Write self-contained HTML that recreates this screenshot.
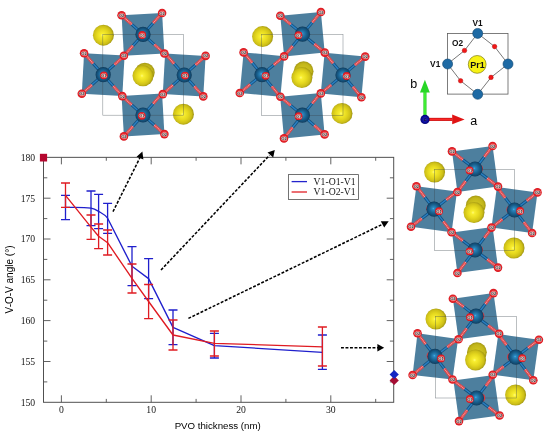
<!DOCTYPE html>
<html><head><meta charset="utf-8"><title>V-O-V angle vs PVO thickness</title>
<style>
html,body{margin:0;padding:0;background:#fff}
svg{display:block}
.tk{font-family:"Liberation Serif",serif;font-size:9.7px;fill:#151515}
.lb{font-family:"Liberation Sans",sans-serif;font-size:9.7px;fill:#000}
.sb{font-family:"Liberation Sans",sans-serif;font-size:8.3px;font-weight:bold;fill:#111}
.ab{font-family:"Liberation Sans",sans-serif;font-size:12.5px;fill:#000}
.al{font-family:"Liberation Sans",sans-serif;font-size:4.1px;font-weight:bold;fill:#2a2a2a;text-anchor:middle;stroke:#fff;stroke-width:0.6px;paint-order:stroke;stroke-opacity:0.9}
</style></head><body>
<svg width="550" height="440" viewBox="0 0 550 440">
<defs>
<radialGradient id="gy" cx="0.47" cy="0.5" r="0.55" fx="0.45" fy="0.5">
<stop offset="0" stop-color="#fffb78"/><stop offset="0.15" stop-color="#f8ee30"/><stop offset="0.5" stop-color="#e5d81e"/><stop offset="0.78" stop-color="#cdbf18"/><stop offset="0.92" stop-color="#ab9f13"/><stop offset="1" stop-color="#7d740e"/>
</radialGradient>
<radialGradient id="gyb" cx="0.5" cy="0.5" r="0.55">
<stop offset="0" stop-color="#d6cb22"/><stop offset="0.7" stop-color="#c2b61a"/><stop offset="0.92" stop-color="#a19513"/><stop offset="1" stop-color="#7a710e"/>
</radialGradient>
<radialGradient id="gv" cx="0.5" cy="0.5" r="0.52" fx="0.45" fy="0.45">
<stop offset="0" stop-color="#49b4e6"/><stop offset="0.15" stop-color="#2a86bd"/><stop offset="0.55" stop-color="#19618f"/><stop offset="0.85" stop-color="#12486e"/><stop offset="1" stop-color="#0c324e"/>
</radialGradient>
<radialGradient id="go" cx="0.5" cy="0.5" r="0.5">
<stop offset="0" stop-color="#f09a9a"/><stop offset="0.4" stop-color="#ec6a6c"/><stop offset="0.65" stop-color="#e52a2e"/><stop offset="1" stop-color="#d9141c"/>
</radialGradient>
<radialGradient id="gc" cx="0.5" cy="0.5" r="0.5">
<stop offset="0" stop-color="#2a2ab8"/><stop offset="0.7" stop-color="#0a0a9a"/><stop offset="1" stop-color="#000070"/>
</radialGradient>
<linearGradient id="gg" x1="0" x2="1" y1="0" y2="0">
<stop offset="0" stop-color="#1fc41f"/><stop offset="0.5" stop-color="#4dff3a"/><stop offset="1" stop-color="#1fc41f"/>
</linearGradient>
<linearGradient id="gr" x1="0" x2="0" y1="0" y2="1">
<stop offset="0" stop-color="#c40e0e"/><stop offset="0.5" stop-color="#ff2a2a"/><stop offset="1" stop-color="#c40e0e"/>
</linearGradient>
</defs>
<rect width="550" height="440" fill="#fff"/>
<g>
<circle cx="103.4" cy="35.2" r="10.5" fill="url(#gy)"/>
<circle cx="183.4" cy="114.2" r="10.5" fill="url(#gy)"/>
<circle cx="144.8" cy="72.6" r="9.9" fill="url(#gyb)"/>
<circle cx="143" cy="75.8" r="10.5" fill="url(#gy)"/>
<polygon points="121.6,15.3 162.1,13.0 164.4,53.5 123.9,55.8" fill="#4d7f9e"/>
<polygon points="84.1,53.3 124.6,55.6 122.3,96.1 81.8,93.8" fill="#4d7f9e"/>
<polygon points="165.1,53.6 205.6,55.9 203.3,96.4 162.8,94.1" fill="#4d7f9e"/>
<polygon points="121.6,95.9 162.1,93.6 164.4,134.1 123.9,136.4" fill="#4d7f9e"/>
<rect x="102.8" y="34.4" width="80.8" height="80.80000000000001" fill="none" stroke="#3a444c" stroke-opacity="0.62" stroke-width="0.55"/>
<line x1="143.0" y1="34.4" x2="131.7" y2="24.3" stroke="#13507f" stroke-width="3"/>
<line x1="143.0" y1="34.4" x2="131.7" y2="24.3" stroke="#2a80c2" stroke-width="1.4"/>
<line x1="131.7" y1="24.3" x2="121.6" y2="15.3" stroke="#df4448" stroke-width="3"/>
<line x1="131.7" y1="24.3" x2="121.6" y2="15.3" stroke="#f5a8a8" stroke-width="1.1" stroke-dasharray="1 0.7"/>
<line x1="143.0" y1="34.4" x2="153.1" y2="23.1" stroke="#13507f" stroke-width="3"/>
<line x1="143.0" y1="34.4" x2="153.1" y2="23.1" stroke="#2a80c2" stroke-width="1.4"/>
<line x1="153.1" y1="23.1" x2="162.1" y2="13.0" stroke="#df4448" stroke-width="3"/>
<line x1="153.1" y1="23.1" x2="162.1" y2="13.0" stroke="#f5a8a8" stroke-width="1.1" stroke-dasharray="1 0.7"/>
<line x1="143.0" y1="34.4" x2="154.3" y2="44.5" stroke="#13507f" stroke-width="3"/>
<line x1="143.0" y1="34.4" x2="154.3" y2="44.5" stroke="#2a80c2" stroke-width="1.4"/>
<line x1="154.3" y1="44.5" x2="164.4" y2="53.5" stroke="#df4448" stroke-width="3"/>
<line x1="154.3" y1="44.5" x2="164.4" y2="53.5" stroke="#f5a8a8" stroke-width="1.1" stroke-dasharray="1 0.7"/>
<line x1="143.0" y1="34.4" x2="132.9" y2="45.7" stroke="#13507f" stroke-width="3"/>
<line x1="143.0" y1="34.4" x2="132.9" y2="45.7" stroke="#2a80c2" stroke-width="1.4"/>
<line x1="132.9" y1="45.7" x2="123.9" y2="55.8" stroke="#df4448" stroke-width="3"/>
<line x1="132.9" y1="45.7" x2="123.9" y2="55.8" stroke="#f5a8a8" stroke-width="1.1" stroke-dasharray="1 0.7"/>
<line x1="103.2" y1="74.7" x2="93.1" y2="63.4" stroke="#13507f" stroke-width="3"/>
<line x1="103.2" y1="74.7" x2="93.1" y2="63.4" stroke="#2a80c2" stroke-width="1.4"/>
<line x1="93.1" y1="63.4" x2="84.1" y2="53.3" stroke="#df4448" stroke-width="3"/>
<line x1="93.1" y1="63.4" x2="84.1" y2="53.3" stroke="#f5a8a8" stroke-width="1.1" stroke-dasharray="1 0.7"/>
<line x1="103.2" y1="74.7" x2="114.5" y2="64.6" stroke="#13507f" stroke-width="3"/>
<line x1="103.2" y1="74.7" x2="114.5" y2="64.6" stroke="#2a80c2" stroke-width="1.4"/>
<line x1="114.5" y1="64.6" x2="124.6" y2="55.6" stroke="#df4448" stroke-width="3"/>
<line x1="114.5" y1="64.6" x2="124.6" y2="55.6" stroke="#f5a8a8" stroke-width="1.1" stroke-dasharray="1 0.7"/>
<line x1="103.2" y1="74.7" x2="113.3" y2="86.0" stroke="#13507f" stroke-width="3"/>
<line x1="103.2" y1="74.7" x2="113.3" y2="86.0" stroke="#2a80c2" stroke-width="1.4"/>
<line x1="113.3" y1="86.0" x2="122.3" y2="96.1" stroke="#df4448" stroke-width="3"/>
<line x1="113.3" y1="86.0" x2="122.3" y2="96.1" stroke="#f5a8a8" stroke-width="1.1" stroke-dasharray="1 0.7"/>
<line x1="103.2" y1="74.7" x2="91.9" y2="84.8" stroke="#13507f" stroke-width="3"/>
<line x1="103.2" y1="74.7" x2="91.9" y2="84.8" stroke="#2a80c2" stroke-width="1.4"/>
<line x1="91.9" y1="84.8" x2="81.8" y2="93.8" stroke="#df4448" stroke-width="3"/>
<line x1="91.9" y1="84.8" x2="81.8" y2="93.8" stroke="#f5a8a8" stroke-width="1.1" stroke-dasharray="1 0.7"/>
<line x1="184.2" y1="75.0" x2="174.1" y2="63.7" stroke="#13507f" stroke-width="3"/>
<line x1="184.2" y1="75.0" x2="174.1" y2="63.7" stroke="#2a80c2" stroke-width="1.4"/>
<line x1="174.1" y1="63.7" x2="165.1" y2="53.6" stroke="#df4448" stroke-width="3"/>
<line x1="174.1" y1="63.7" x2="165.1" y2="53.6" stroke="#f5a8a8" stroke-width="1.1" stroke-dasharray="1 0.7"/>
<line x1="184.2" y1="75.0" x2="195.5" y2="64.9" stroke="#13507f" stroke-width="3"/>
<line x1="184.2" y1="75.0" x2="195.5" y2="64.9" stroke="#2a80c2" stroke-width="1.4"/>
<line x1="195.5" y1="64.9" x2="205.6" y2="55.9" stroke="#df4448" stroke-width="3"/>
<line x1="195.5" y1="64.9" x2="205.6" y2="55.9" stroke="#f5a8a8" stroke-width="1.1" stroke-dasharray="1 0.7"/>
<line x1="184.2" y1="75.0" x2="194.3" y2="86.3" stroke="#13507f" stroke-width="3"/>
<line x1="184.2" y1="75.0" x2="194.3" y2="86.3" stroke="#2a80c2" stroke-width="1.4"/>
<line x1="194.3" y1="86.3" x2="203.3" y2="96.4" stroke="#df4448" stroke-width="3"/>
<line x1="194.3" y1="86.3" x2="203.3" y2="96.4" stroke="#f5a8a8" stroke-width="1.1" stroke-dasharray="1 0.7"/>
<line x1="184.2" y1="75.0" x2="172.9" y2="85.1" stroke="#13507f" stroke-width="3"/>
<line x1="184.2" y1="75.0" x2="172.9" y2="85.1" stroke="#2a80c2" stroke-width="1.4"/>
<line x1="172.9" y1="85.1" x2="162.8" y2="94.1" stroke="#df4448" stroke-width="3"/>
<line x1="172.9" y1="85.1" x2="162.8" y2="94.1" stroke="#f5a8a8" stroke-width="1.1" stroke-dasharray="1 0.7"/>
<line x1="143.0" y1="115.0" x2="131.7" y2="104.9" stroke="#13507f" stroke-width="3"/>
<line x1="143.0" y1="115.0" x2="131.7" y2="104.9" stroke="#2a80c2" stroke-width="1.4"/>
<line x1="131.7" y1="104.9" x2="121.6" y2="95.9" stroke="#df4448" stroke-width="3"/>
<line x1="131.7" y1="104.9" x2="121.6" y2="95.9" stroke="#f5a8a8" stroke-width="1.1" stroke-dasharray="1 0.7"/>
<line x1="143.0" y1="115.0" x2="153.1" y2="103.7" stroke="#13507f" stroke-width="3"/>
<line x1="143.0" y1="115.0" x2="153.1" y2="103.7" stroke="#2a80c2" stroke-width="1.4"/>
<line x1="153.1" y1="103.7" x2="162.1" y2="93.6" stroke="#df4448" stroke-width="3"/>
<line x1="153.1" y1="103.7" x2="162.1" y2="93.6" stroke="#f5a8a8" stroke-width="1.1" stroke-dasharray="1 0.7"/>
<line x1="143.0" y1="115.0" x2="154.3" y2="125.1" stroke="#13507f" stroke-width="3"/>
<line x1="143.0" y1="115.0" x2="154.3" y2="125.1" stroke="#2a80c2" stroke-width="1.4"/>
<line x1="154.3" y1="125.1" x2="164.4" y2="134.1" stroke="#df4448" stroke-width="3"/>
<line x1="154.3" y1="125.1" x2="164.4" y2="134.1" stroke="#f5a8a8" stroke-width="1.1" stroke-dasharray="1 0.7"/>
<line x1="143.0" y1="115.0" x2="132.9" y2="126.3" stroke="#13507f" stroke-width="3"/>
<line x1="143.0" y1="115.0" x2="132.9" y2="126.3" stroke="#2a80c2" stroke-width="1.4"/>
<line x1="132.9" y1="126.3" x2="123.9" y2="136.4" stroke="#df4448" stroke-width="3"/>
<line x1="132.9" y1="126.3" x2="123.9" y2="136.4" stroke="#f5a8a8" stroke-width="1.1" stroke-dasharray="1 0.7"/>
<circle cx="143.0" cy="34.4" r="7.6" fill="url(#gv)"/>
<circle cx="142.2" cy="35.0" r="3.9" fill="url(#go)"/>
<text x="142.2" y="36.5" class="al">O1</text>
<circle cx="103.2" cy="74.7" r="7.6" fill="url(#gv)"/>
<circle cx="103.8" cy="75.3" r="3.9" fill="url(#go)"/>
<text x="103.8" y="76.8" class="al">O1</text>
<circle cx="184.2" cy="75.0" r="7.6" fill="url(#gv)"/>
<circle cx="185.0" cy="75.6" r="3.9" fill="url(#go)"/>
<text x="185.0" y="77.1" class="al">O1</text>
<circle cx="143.0" cy="115.0" r="7.6" fill="url(#gv)"/>
<circle cx="141.8" cy="115.8" r="3.9" fill="url(#go)"/>
<text x="141.8" y="117.3" class="al">O1</text>
<circle cx="121.6" cy="15.3" r="4.3" fill="url(#go)"/>
<text x="121.6" y="16.8" class="al">O2</text>
<circle cx="162.1" cy="13.0" r="4.3" fill="url(#go)"/>
<text x="162.1" y="14.5" class="al">O2</text>
<circle cx="164.4" cy="53.5" r="4.3" fill="url(#go)"/>
<text x="164.4" y="55.0" class="al">O2</text>
<circle cx="123.9" cy="55.8" r="4.3" fill="url(#go)"/>
<text x="123.9" y="57.3" class="al">O2</text>
<circle cx="84.1" cy="53.3" r="4.3" fill="url(#go)"/>
<text x="84.1" y="54.8" class="al">O2</text>
<circle cx="122.3" cy="96.1" r="4.3" fill="url(#go)"/>
<text x="122.3" y="97.6" class="al">O2</text>
<circle cx="81.8" cy="93.8" r="4.3" fill="url(#go)"/>
<text x="81.8" y="95.3" class="al">O2</text>
<circle cx="205.6" cy="55.9" r="4.3" fill="url(#go)"/>
<text x="205.6" y="57.4" class="al">O2</text>
<circle cx="203.3" cy="96.4" r="4.3" fill="url(#go)"/>
<text x="203.3" y="97.9" class="al">O2</text>
<circle cx="162.8" cy="94.1" r="4.3" fill="url(#go)"/>
<text x="162.8" y="95.6" class="al">O2</text>
<circle cx="164.4" cy="134.1" r="4.3" fill="url(#go)"/>
<text x="164.4" y="135.6" class="al">O2</text>
<circle cx="123.9" cy="136.4" r="4.3" fill="url(#go)"/>
<text x="123.9" y="137.9" class="al">O2</text>
</g>
<g>
<circle cx="262.6" cy="36.6" r="10.5" fill="url(#gy)"/>
<circle cx="342" cy="113.4" r="10.5" fill="url(#gy)"/>
<circle cx="303.6" cy="71.2" r="9.9" fill="url(#gyb)"/>
<circle cx="301.9" cy="77.6" r="10.5" fill="url(#gy)"/>
<polygon points="280.3,15.8 320.9,12.0 324.7,52.6 284.1,56.4" fill="#4d7f9e"/>
<polygon points="243.6,52.4 284.2,56.2 280.4,96.8 239.8,93.0" fill="#4d7f9e"/>
<polygon points="324.6,52.8 365.2,56.6 361.4,97.2 320.8,93.4" fill="#4d7f9e"/>
<polygon points="280.2,96.8 320.8,93.0 324.6,134.4 284.0,138.4" fill="#4d7f9e"/>
<rect x="261.6" y="34.4" width="81.39999999999998" height="81.19999999999999" fill="none" stroke="#3a444c" stroke-opacity="0.62" stroke-width="0.55"/>
<line x1="302.5" y1="34.2" x2="290.7" y2="24.4" stroke="#13507f" stroke-width="3"/>
<line x1="302.5" y1="34.2" x2="290.7" y2="24.4" stroke="#2a80c2" stroke-width="1.4"/>
<line x1="290.7" y1="24.4" x2="280.3" y2="15.8" stroke="#df4448" stroke-width="3"/>
<line x1="290.7" y1="24.4" x2="280.3" y2="15.8" stroke="#f5a8a8" stroke-width="1.1" stroke-dasharray="1 0.7"/>
<line x1="302.5" y1="34.2" x2="312.3" y2="22.4" stroke="#13507f" stroke-width="3"/>
<line x1="302.5" y1="34.2" x2="312.3" y2="22.4" stroke="#2a80c2" stroke-width="1.4"/>
<line x1="312.3" y1="22.4" x2="320.9" y2="12.0" stroke="#df4448" stroke-width="3"/>
<line x1="312.3" y1="22.4" x2="320.9" y2="12.0" stroke="#f5a8a8" stroke-width="1.1" stroke-dasharray="1 0.7"/>
<line x1="302.5" y1="34.2" x2="314.3" y2="44.0" stroke="#13507f" stroke-width="3"/>
<line x1="302.5" y1="34.2" x2="314.3" y2="44.0" stroke="#2a80c2" stroke-width="1.4"/>
<line x1="314.3" y1="44.0" x2="324.7" y2="52.6" stroke="#df4448" stroke-width="3"/>
<line x1="314.3" y1="44.0" x2="324.7" y2="52.6" stroke="#f5a8a8" stroke-width="1.1" stroke-dasharray="1 0.7"/>
<line x1="302.5" y1="34.2" x2="292.7" y2="46.0" stroke="#13507f" stroke-width="3"/>
<line x1="302.5" y1="34.2" x2="292.7" y2="46.0" stroke="#2a80c2" stroke-width="1.4"/>
<line x1="292.7" y1="46.0" x2="284.1" y2="56.4" stroke="#df4448" stroke-width="3"/>
<line x1="292.7" y1="46.0" x2="284.1" y2="56.4" stroke="#f5a8a8" stroke-width="1.1" stroke-dasharray="1 0.7"/>
<line x1="262.0" y1="74.6" x2="252.2" y2="62.8" stroke="#13507f" stroke-width="3"/>
<line x1="262.0" y1="74.6" x2="252.2" y2="62.8" stroke="#2a80c2" stroke-width="1.4"/>
<line x1="252.2" y1="62.8" x2="243.6" y2="52.4" stroke="#df4448" stroke-width="3"/>
<line x1="252.2" y1="62.8" x2="243.6" y2="52.4" stroke="#f5a8a8" stroke-width="1.1" stroke-dasharray="1 0.7"/>
<line x1="262.0" y1="74.6" x2="273.8" y2="64.8" stroke="#13507f" stroke-width="3"/>
<line x1="262.0" y1="74.6" x2="273.8" y2="64.8" stroke="#2a80c2" stroke-width="1.4"/>
<line x1="273.8" y1="64.8" x2="284.2" y2="56.2" stroke="#df4448" stroke-width="3"/>
<line x1="273.8" y1="64.8" x2="284.2" y2="56.2" stroke="#f5a8a8" stroke-width="1.1" stroke-dasharray="1 0.7"/>
<line x1="262.0" y1="74.6" x2="271.8" y2="86.4" stroke="#13507f" stroke-width="3"/>
<line x1="262.0" y1="74.6" x2="271.8" y2="86.4" stroke="#2a80c2" stroke-width="1.4"/>
<line x1="271.8" y1="86.4" x2="280.4" y2="96.8" stroke="#df4448" stroke-width="3"/>
<line x1="271.8" y1="86.4" x2="280.4" y2="96.8" stroke="#f5a8a8" stroke-width="1.1" stroke-dasharray="1 0.7"/>
<line x1="262.0" y1="74.6" x2="250.2" y2="84.4" stroke="#13507f" stroke-width="3"/>
<line x1="262.0" y1="74.6" x2="250.2" y2="84.4" stroke="#2a80c2" stroke-width="1.4"/>
<line x1="250.2" y1="84.4" x2="239.8" y2="93.0" stroke="#df4448" stroke-width="3"/>
<line x1="250.2" y1="84.4" x2="239.8" y2="93.0" stroke="#f5a8a8" stroke-width="1.1" stroke-dasharray="1 0.7"/>
<line x1="343.0" y1="75.0" x2="333.2" y2="63.2" stroke="#13507f" stroke-width="3"/>
<line x1="343.0" y1="75.0" x2="333.2" y2="63.2" stroke="#2a80c2" stroke-width="1.4"/>
<line x1="333.2" y1="63.2" x2="324.6" y2="52.8" stroke="#df4448" stroke-width="3"/>
<line x1="333.2" y1="63.2" x2="324.6" y2="52.8" stroke="#f5a8a8" stroke-width="1.1" stroke-dasharray="1 0.7"/>
<line x1="343.0" y1="75.0" x2="354.8" y2="65.2" stroke="#13507f" stroke-width="3"/>
<line x1="343.0" y1="75.0" x2="354.8" y2="65.2" stroke="#2a80c2" stroke-width="1.4"/>
<line x1="354.8" y1="65.2" x2="365.2" y2="56.6" stroke="#df4448" stroke-width="3"/>
<line x1="354.8" y1="65.2" x2="365.2" y2="56.6" stroke="#f5a8a8" stroke-width="1.1" stroke-dasharray="1 0.7"/>
<line x1="343.0" y1="75.0" x2="352.8" y2="86.8" stroke="#13507f" stroke-width="3"/>
<line x1="343.0" y1="75.0" x2="352.8" y2="86.8" stroke="#2a80c2" stroke-width="1.4"/>
<line x1="352.8" y1="86.8" x2="361.4" y2="97.2" stroke="#df4448" stroke-width="3"/>
<line x1="352.8" y1="86.8" x2="361.4" y2="97.2" stroke="#f5a8a8" stroke-width="1.1" stroke-dasharray="1 0.7"/>
<line x1="343.0" y1="75.0" x2="331.2" y2="84.8" stroke="#13507f" stroke-width="3"/>
<line x1="343.0" y1="75.0" x2="331.2" y2="84.8" stroke="#2a80c2" stroke-width="1.4"/>
<line x1="331.2" y1="84.8" x2="320.8" y2="93.4" stroke="#df4448" stroke-width="3"/>
<line x1="331.2" y1="84.8" x2="320.8" y2="93.4" stroke="#f5a8a8" stroke-width="1.1" stroke-dasharray="1 0.7"/>
<line x1="302.4" y1="115.2" x2="290.6" y2="105.4" stroke="#13507f" stroke-width="3"/>
<line x1="302.4" y1="115.2" x2="290.6" y2="105.4" stroke="#2a80c2" stroke-width="1.4"/>
<line x1="290.6" y1="105.4" x2="280.2" y2="96.8" stroke="#df4448" stroke-width="3"/>
<line x1="290.6" y1="105.4" x2="280.2" y2="96.8" stroke="#f5a8a8" stroke-width="1.1" stroke-dasharray="1 0.7"/>
<line x1="302.4" y1="115.2" x2="312.2" y2="103.4" stroke="#13507f" stroke-width="3"/>
<line x1="302.4" y1="115.2" x2="312.2" y2="103.4" stroke="#2a80c2" stroke-width="1.4"/>
<line x1="312.2" y1="103.4" x2="320.8" y2="93.0" stroke="#df4448" stroke-width="3"/>
<line x1="312.2" y1="103.4" x2="320.8" y2="93.0" stroke="#f5a8a8" stroke-width="1.1" stroke-dasharray="1 0.7"/>
<line x1="302.4" y1="115.2" x2="314.2" y2="125.4" stroke="#13507f" stroke-width="3"/>
<line x1="302.4" y1="115.2" x2="314.2" y2="125.4" stroke="#2a80c2" stroke-width="1.4"/>
<line x1="314.2" y1="125.4" x2="324.6" y2="134.4" stroke="#df4448" stroke-width="3"/>
<line x1="314.2" y1="125.4" x2="324.6" y2="134.4" stroke="#f5a8a8" stroke-width="1.1" stroke-dasharray="1 0.7"/>
<line x1="302.4" y1="115.2" x2="292.6" y2="127.5" stroke="#13507f" stroke-width="3"/>
<line x1="302.4" y1="115.2" x2="292.6" y2="127.5" stroke="#2a80c2" stroke-width="1.4"/>
<line x1="292.6" y1="127.5" x2="284.0" y2="138.4" stroke="#df4448" stroke-width="3"/>
<line x1="292.6" y1="127.5" x2="284.0" y2="138.4" stroke="#f5a8a8" stroke-width="1.1" stroke-dasharray="1 0.7"/>
<circle cx="305.5" cy="33.9" r="3.9" fill="#d83a40"/>
<circle cx="302.5" cy="34.2" r="7.6" fill="url(#gv)"/>
<circle cx="298.5" cy="35.2" r="3.9" fill="url(#go)"/>
<text x="298.5" y="36.7" class="al">O1</text>
<circle cx="259.3" cy="74.2" r="3.9" fill="#d83a40"/>
<circle cx="262.0" cy="74.6" r="7.6" fill="url(#gv)"/>
<circle cx="265.6" cy="75.8" r="3.9" fill="url(#go)"/>
<text x="265.6" y="77.3" class="al">O1</text>
<circle cx="340.3" cy="74.7" r="3.9" fill="#d83a40"/>
<circle cx="343.0" cy="75.0" r="7.6" fill="url(#gv)"/>
<circle cx="346.6" cy="76.0" r="3.9" fill="url(#go)"/>
<text x="346.6" y="77.5" class="al">O1</text>
<circle cx="305.2" cy="114.9" r="3.9" fill="#d83a40"/>
<circle cx="302.4" cy="115.2" r="7.6" fill="url(#gv)"/>
<circle cx="298.6" cy="116.2" r="3.9" fill="url(#go)"/>
<text x="298.6" y="117.7" class="al">O1</text>
<circle cx="280.3" cy="15.8" r="4.3" fill="url(#go)"/>
<text x="280.3" y="17.3" class="al">O2</text>
<circle cx="320.9" cy="12.0" r="4.3" fill="url(#go)"/>
<text x="320.9" y="13.5" class="al">O2</text>
<circle cx="324.7" cy="52.6" r="4.3" fill="url(#go)"/>
<text x="324.7" y="54.1" class="al">O2</text>
<circle cx="284.1" cy="56.4" r="4.3" fill="url(#go)"/>
<text x="284.1" y="57.9" class="al">O2</text>
<circle cx="243.6" cy="52.4" r="4.3" fill="url(#go)"/>
<text x="243.6" y="53.9" class="al">O2</text>
<circle cx="280.4" cy="96.8" r="4.3" fill="url(#go)"/>
<text x="280.4" y="98.3" class="al">O2</text>
<circle cx="239.8" cy="93.0" r="4.3" fill="url(#go)"/>
<text x="239.8" y="94.5" class="al">O2</text>
<circle cx="365.2" cy="56.6" r="4.3" fill="url(#go)"/>
<text x="365.2" y="58.1" class="al">O2</text>
<circle cx="361.4" cy="97.2" r="4.3" fill="url(#go)"/>
<text x="361.4" y="98.7" class="al">O2</text>
<circle cx="320.8" cy="93.4" r="4.3" fill="url(#go)"/>
<text x="320.8" y="94.9" class="al">O2</text>
<circle cx="324.6" cy="134.4" r="4.3" fill="url(#go)"/>
<text x="324.6" y="135.9" class="al">O2</text>
<circle cx="284.0" cy="138.4" r="4.3" fill="url(#go)"/>
<text x="284.0" y="139.9" class="al">O2</text>
</g>
<g>
<circle cx="434.6" cy="172" r="10.5" fill="url(#gy)"/>
<circle cx="514" cy="248" r="10.5" fill="url(#gy)"/>
<circle cx="475.8" cy="205.4" r="9.9" fill="url(#gyb)"/>
<circle cx="474" cy="212.6" r="10.5" fill="url(#gy)"/>
<polygon points="452.0,151.4 492.6,146.0 498.0,186.6 457.4,192.0" fill="#4d7f9e"/>
<polygon points="416.4,186.2 457.0,191.6 451.6,232.2 411.0,226.8" fill="#4d7f9e"/>
<polygon points="496.9,187.0 537.5,192.4 532.1,233.0 491.5,227.6" fill="#4d7f9e"/>
<polygon points="452.0,232.4 492.6,227.0 498.0,267.6 457.4,273.0" fill="#4d7f9e"/>
<rect x="434.4" y="169.4" width="80.20000000000005" height="81.0" fill="none" stroke="#3a444c" stroke-opacity="0.62" stroke-width="0.55"/>
<line x1="475.0" y1="169.0" x2="462.8" y2="159.7" stroke="#13507f" stroke-width="3"/>
<line x1="475.0" y1="169.0" x2="462.8" y2="159.7" stroke="#2a80c2" stroke-width="1.4"/>
<line x1="462.8" y1="159.7" x2="452.0" y2="151.4" stroke="#df4448" stroke-width="3"/>
<line x1="462.8" y1="159.7" x2="452.0" y2="151.4" stroke="#f5a8a8" stroke-width="1.1" stroke-dasharray="1 0.7"/>
<line x1="475.0" y1="169.0" x2="484.3" y2="156.8" stroke="#13507f" stroke-width="3"/>
<line x1="475.0" y1="169.0" x2="484.3" y2="156.8" stroke="#2a80c2" stroke-width="1.4"/>
<line x1="484.3" y1="156.8" x2="492.6" y2="146.0" stroke="#df4448" stroke-width="3"/>
<line x1="484.3" y1="156.8" x2="492.6" y2="146.0" stroke="#f5a8a8" stroke-width="1.1" stroke-dasharray="1 0.7"/>
<line x1="475.0" y1="169.0" x2="487.2" y2="178.3" stroke="#13507f" stroke-width="3"/>
<line x1="475.0" y1="169.0" x2="487.2" y2="178.3" stroke="#2a80c2" stroke-width="1.4"/>
<line x1="487.2" y1="178.3" x2="498.0" y2="186.6" stroke="#df4448" stroke-width="3"/>
<line x1="487.2" y1="178.3" x2="498.0" y2="186.6" stroke="#f5a8a8" stroke-width="1.1" stroke-dasharray="1 0.7"/>
<line x1="475.0" y1="169.0" x2="465.7" y2="181.2" stroke="#13507f" stroke-width="3"/>
<line x1="475.0" y1="169.0" x2="465.7" y2="181.2" stroke="#2a80c2" stroke-width="1.4"/>
<line x1="465.7" y1="181.2" x2="457.4" y2="192.0" stroke="#df4448" stroke-width="3"/>
<line x1="465.7" y1="181.2" x2="457.4" y2="192.0" stroke="#f5a8a8" stroke-width="1.1" stroke-dasharray="1 0.7"/>
<line x1="434.0" y1="209.2" x2="424.7" y2="197.0" stroke="#13507f" stroke-width="3"/>
<line x1="434.0" y1="209.2" x2="424.7" y2="197.0" stroke="#2a80c2" stroke-width="1.4"/>
<line x1="424.7" y1="197.0" x2="416.4" y2="186.2" stroke="#df4448" stroke-width="3"/>
<line x1="424.7" y1="197.0" x2="416.4" y2="186.2" stroke="#f5a8a8" stroke-width="1.1" stroke-dasharray="1 0.7"/>
<line x1="434.0" y1="209.2" x2="446.2" y2="199.9" stroke="#13507f" stroke-width="3"/>
<line x1="434.0" y1="209.2" x2="446.2" y2="199.9" stroke="#2a80c2" stroke-width="1.4"/>
<line x1="446.2" y1="199.9" x2="457.0" y2="191.6" stroke="#df4448" stroke-width="3"/>
<line x1="446.2" y1="199.9" x2="457.0" y2="191.6" stroke="#f5a8a8" stroke-width="1.1" stroke-dasharray="1 0.7"/>
<line x1="434.0" y1="209.2" x2="443.3" y2="221.4" stroke="#13507f" stroke-width="3"/>
<line x1="434.0" y1="209.2" x2="443.3" y2="221.4" stroke="#2a80c2" stroke-width="1.4"/>
<line x1="443.3" y1="221.4" x2="451.6" y2="232.2" stroke="#df4448" stroke-width="3"/>
<line x1="443.3" y1="221.4" x2="451.6" y2="232.2" stroke="#f5a8a8" stroke-width="1.1" stroke-dasharray="1 0.7"/>
<line x1="434.0" y1="209.2" x2="421.8" y2="218.5" stroke="#13507f" stroke-width="3"/>
<line x1="434.0" y1="209.2" x2="421.8" y2="218.5" stroke="#2a80c2" stroke-width="1.4"/>
<line x1="421.8" y1="218.5" x2="411.0" y2="226.8" stroke="#df4448" stroke-width="3"/>
<line x1="421.8" y1="218.5" x2="411.0" y2="226.8" stroke="#f5a8a8" stroke-width="1.1" stroke-dasharray="1 0.7"/>
<line x1="514.5" y1="210.0" x2="505.2" y2="197.8" stroke="#13507f" stroke-width="3"/>
<line x1="514.5" y1="210.0" x2="505.2" y2="197.8" stroke="#2a80c2" stroke-width="1.4"/>
<line x1="505.2" y1="197.8" x2="496.9" y2="187.0" stroke="#df4448" stroke-width="3"/>
<line x1="505.2" y1="197.8" x2="496.9" y2="187.0" stroke="#f5a8a8" stroke-width="1.1" stroke-dasharray="1 0.7"/>
<line x1="514.5" y1="210.0" x2="526.7" y2="200.7" stroke="#13507f" stroke-width="3"/>
<line x1="514.5" y1="210.0" x2="526.7" y2="200.7" stroke="#2a80c2" stroke-width="1.4"/>
<line x1="526.7" y1="200.7" x2="537.5" y2="192.4" stroke="#df4448" stroke-width="3"/>
<line x1="526.7" y1="200.7" x2="537.5" y2="192.4" stroke="#f5a8a8" stroke-width="1.1" stroke-dasharray="1 0.7"/>
<line x1="514.5" y1="210.0" x2="523.8" y2="222.2" stroke="#13507f" stroke-width="3"/>
<line x1="514.5" y1="210.0" x2="523.8" y2="222.2" stroke="#2a80c2" stroke-width="1.4"/>
<line x1="523.8" y1="222.2" x2="532.1" y2="233.0" stroke="#df4448" stroke-width="3"/>
<line x1="523.8" y1="222.2" x2="532.1" y2="233.0" stroke="#f5a8a8" stroke-width="1.1" stroke-dasharray="1 0.7"/>
<line x1="514.5" y1="210.0" x2="502.3" y2="219.3" stroke="#13507f" stroke-width="3"/>
<line x1="514.5" y1="210.0" x2="502.3" y2="219.3" stroke="#2a80c2" stroke-width="1.4"/>
<line x1="502.3" y1="219.3" x2="491.5" y2="227.6" stroke="#df4448" stroke-width="3"/>
<line x1="502.3" y1="219.3" x2="491.5" y2="227.6" stroke="#f5a8a8" stroke-width="1.1" stroke-dasharray="1 0.7"/>
<line x1="475.0" y1="250.0" x2="462.8" y2="240.7" stroke="#13507f" stroke-width="3"/>
<line x1="475.0" y1="250.0" x2="462.8" y2="240.7" stroke="#2a80c2" stroke-width="1.4"/>
<line x1="462.8" y1="240.7" x2="452.0" y2="232.4" stroke="#df4448" stroke-width="3"/>
<line x1="462.8" y1="240.7" x2="452.0" y2="232.4" stroke="#f5a8a8" stroke-width="1.1" stroke-dasharray="1 0.7"/>
<line x1="475.0" y1="250.0" x2="484.3" y2="237.8" stroke="#13507f" stroke-width="3"/>
<line x1="475.0" y1="250.0" x2="484.3" y2="237.8" stroke="#2a80c2" stroke-width="1.4"/>
<line x1="484.3" y1="237.8" x2="492.6" y2="227.0" stroke="#df4448" stroke-width="3"/>
<line x1="484.3" y1="237.8" x2="492.6" y2="227.0" stroke="#f5a8a8" stroke-width="1.1" stroke-dasharray="1 0.7"/>
<line x1="475.0" y1="250.0" x2="487.2" y2="259.3" stroke="#13507f" stroke-width="3"/>
<line x1="475.0" y1="250.0" x2="487.2" y2="259.3" stroke="#2a80c2" stroke-width="1.4"/>
<line x1="487.2" y1="259.3" x2="498.0" y2="267.6" stroke="#df4448" stroke-width="3"/>
<line x1="487.2" y1="259.3" x2="498.0" y2="267.6" stroke="#f5a8a8" stroke-width="1.1" stroke-dasharray="1 0.7"/>
<line x1="475.0" y1="250.0" x2="465.7" y2="262.2" stroke="#13507f" stroke-width="3"/>
<line x1="475.0" y1="250.0" x2="465.7" y2="262.2" stroke="#2a80c2" stroke-width="1.4"/>
<line x1="465.7" y1="262.2" x2="457.4" y2="273.0" stroke="#df4448" stroke-width="3"/>
<line x1="465.7" y1="262.2" x2="457.4" y2="273.0" stroke="#f5a8a8" stroke-width="1.1" stroke-dasharray="1 0.7"/>
<circle cx="479.1" cy="168.6" r="3.9" fill="#d83a40"/>
<circle cx="475.0" cy="169.0" r="7.6" fill="url(#gv)"/>
<circle cx="469.6" cy="170.4" r="3.9" fill="url(#go)"/>
<text x="469.6" y="171.9" class="al">O1</text>
<circle cx="430.2" cy="208.6" r="3.9" fill="#d83a40"/>
<circle cx="434.0" cy="209.2" r="7.6" fill="url(#gv)"/>
<circle cx="439.0" cy="211.2" r="3.9" fill="url(#go)"/>
<text x="439.0" y="212.7" class="al">O1</text>
<circle cx="510.3" cy="209.7" r="3.9" fill="#d83a40"/>
<circle cx="514.5" cy="210.0" r="7.6" fill="url(#gv)"/>
<circle cx="520.1" cy="211.0" r="3.9" fill="url(#go)"/>
<text x="520.1" y="212.5" class="al">O1</text>
<circle cx="479.1" cy="249.6" r="3.9" fill="#d83a40"/>
<circle cx="475.0" cy="250.0" r="7.6" fill="url(#gv)"/>
<circle cx="469.6" cy="251.4" r="3.9" fill="url(#go)"/>
<text x="469.6" y="252.9" class="al">O1</text>
<circle cx="452.0" cy="151.4" r="4.3" fill="url(#go)"/>
<text x="452.0" y="152.9" class="al">O2</text>
<circle cx="492.6" cy="146.0" r="4.3" fill="url(#go)"/>
<text x="492.6" y="147.5" class="al">O2</text>
<circle cx="498.0" cy="186.6" r="4.3" fill="url(#go)"/>
<text x="498.0" y="188.1" class="al">O2</text>
<circle cx="457.4" cy="192.0" r="4.3" fill="url(#go)"/>
<text x="457.4" y="193.5" class="al">O2</text>
<circle cx="416.4" cy="186.2" r="4.3" fill="url(#go)"/>
<text x="416.4" y="187.7" class="al">O2</text>
<circle cx="451.6" cy="232.2" r="4.3" fill="url(#go)"/>
<text x="451.6" y="233.7" class="al">O2</text>
<circle cx="411.0" cy="226.8" r="4.3" fill="url(#go)"/>
<text x="411.0" y="228.3" class="al">O2</text>
<circle cx="537.5" cy="192.4" r="4.3" fill="url(#go)"/>
<text x="537.5" y="193.9" class="al">O2</text>
<circle cx="532.1" cy="233.0" r="4.3" fill="url(#go)"/>
<text x="532.1" y="234.5" class="al">O2</text>
<circle cx="491.5" cy="227.6" r="4.3" fill="url(#go)"/>
<text x="491.5" y="229.1" class="al">O2</text>
<circle cx="498.0" cy="267.6" r="4.3" fill="url(#go)"/>
<text x="498.0" y="269.1" class="al">O2</text>
<circle cx="457.4" cy="273.0" r="4.3" fill="url(#go)"/>
<text x="457.4" y="274.5" class="al">O2</text>
</g>
<g>
<circle cx="436" cy="319" r="10.5" fill="url(#gy)"/>
<circle cx="515.6" cy="395" r="10.5" fill="url(#gy)"/>
<circle cx="476.9" cy="352.2" r="9.9" fill="url(#gyb)"/>
<circle cx="475.6" cy="360" r="10.5" fill="url(#gy)"/>
<polygon points="452.9,298.7 493.5,293.1 499.1,333.7 458.5,339.3" fill="#4d7f9e"/>
<polygon points="417.5,333.3 458.1,338.9 452.5,379.5 412.6,375.0" fill="#4d7f9e"/>
<polygon points="498.3,334.1 538.9,339.7 533.3,380.3 492.7,374.7" fill="#4d7f9e"/>
<polygon points="453.4,380.5 494.0,374.9 499.6,415.5 459.0,421.1" fill="#4d7f9e"/>
<rect x="435.4" y="316.6" width="81.20000000000005" height="81.39999999999998" fill="none" stroke="#3a444c" stroke-opacity="0.62" stroke-width="0.55"/>
<line x1="476.0" y1="316.2" x2="463.8" y2="306.9" stroke="#13507f" stroke-width="3"/>
<line x1="476.0" y1="316.2" x2="463.8" y2="306.9" stroke="#2a80c2" stroke-width="1.4"/>
<line x1="463.8" y1="306.9" x2="452.9" y2="298.7" stroke="#df4448" stroke-width="3"/>
<line x1="463.8" y1="306.9" x2="452.9" y2="298.7" stroke="#f5a8a8" stroke-width="1.1" stroke-dasharray="1 0.7"/>
<line x1="476.0" y1="316.2" x2="485.3" y2="304.0" stroke="#13507f" stroke-width="3"/>
<line x1="476.0" y1="316.2" x2="485.3" y2="304.0" stroke="#2a80c2" stroke-width="1.4"/>
<line x1="485.3" y1="304.0" x2="493.5" y2="293.1" stroke="#df4448" stroke-width="3"/>
<line x1="485.3" y1="304.0" x2="493.5" y2="293.1" stroke="#f5a8a8" stroke-width="1.1" stroke-dasharray="1 0.7"/>
<line x1="476.0" y1="316.2" x2="488.2" y2="325.5" stroke="#13507f" stroke-width="3"/>
<line x1="476.0" y1="316.2" x2="488.2" y2="325.5" stroke="#2a80c2" stroke-width="1.4"/>
<line x1="488.2" y1="325.5" x2="499.1" y2="333.7" stroke="#df4448" stroke-width="3"/>
<line x1="488.2" y1="325.5" x2="499.1" y2="333.7" stroke="#f5a8a8" stroke-width="1.1" stroke-dasharray="1 0.7"/>
<line x1="476.0" y1="316.2" x2="466.7" y2="328.4" stroke="#13507f" stroke-width="3"/>
<line x1="476.0" y1="316.2" x2="466.7" y2="328.4" stroke="#2a80c2" stroke-width="1.4"/>
<line x1="466.7" y1="328.4" x2="458.5" y2="339.3" stroke="#df4448" stroke-width="3"/>
<line x1="466.7" y1="328.4" x2="458.5" y2="339.3" stroke="#f5a8a8" stroke-width="1.1" stroke-dasharray="1 0.7"/>
<line x1="435.0" y1="356.4" x2="425.7" y2="344.2" stroke="#13507f" stroke-width="3"/>
<line x1="435.0" y1="356.4" x2="425.7" y2="344.2" stroke="#2a80c2" stroke-width="1.4"/>
<line x1="425.7" y1="344.2" x2="417.5" y2="333.3" stroke="#df4448" stroke-width="3"/>
<line x1="425.7" y1="344.2" x2="417.5" y2="333.3" stroke="#f5a8a8" stroke-width="1.1" stroke-dasharray="1 0.7"/>
<line x1="435.0" y1="356.4" x2="447.2" y2="347.1" stroke="#13507f" stroke-width="3"/>
<line x1="435.0" y1="356.4" x2="447.2" y2="347.1" stroke="#2a80c2" stroke-width="1.4"/>
<line x1="447.2" y1="347.1" x2="458.1" y2="338.9" stroke="#df4448" stroke-width="3"/>
<line x1="447.2" y1="347.1" x2="458.1" y2="338.9" stroke="#f5a8a8" stroke-width="1.1" stroke-dasharray="1 0.7"/>
<line x1="435.0" y1="356.4" x2="444.3" y2="368.6" stroke="#13507f" stroke-width="3"/>
<line x1="435.0" y1="356.4" x2="444.3" y2="368.6" stroke="#2a80c2" stroke-width="1.4"/>
<line x1="444.3" y1="368.6" x2="452.5" y2="379.5" stroke="#df4448" stroke-width="3"/>
<line x1="444.3" y1="368.6" x2="452.5" y2="379.5" stroke="#f5a8a8" stroke-width="1.1" stroke-dasharray="1 0.7"/>
<line x1="435.0" y1="356.4" x2="423.1" y2="366.3" stroke="#13507f" stroke-width="3"/>
<line x1="435.0" y1="356.4" x2="423.1" y2="366.3" stroke="#2a80c2" stroke-width="1.4"/>
<line x1="423.1" y1="366.3" x2="412.6" y2="375.0" stroke="#df4448" stroke-width="3"/>
<line x1="423.1" y1="366.3" x2="412.6" y2="375.0" stroke="#f5a8a8" stroke-width="1.1" stroke-dasharray="1 0.7"/>
<line x1="515.8" y1="357.2" x2="506.5" y2="345.0" stroke="#13507f" stroke-width="3"/>
<line x1="515.8" y1="357.2" x2="506.5" y2="345.0" stroke="#2a80c2" stroke-width="1.4"/>
<line x1="506.5" y1="345.0" x2="498.3" y2="334.1" stroke="#df4448" stroke-width="3"/>
<line x1="506.5" y1="345.0" x2="498.3" y2="334.1" stroke="#f5a8a8" stroke-width="1.1" stroke-dasharray="1 0.7"/>
<line x1="515.8" y1="357.2" x2="528.0" y2="347.9" stroke="#13507f" stroke-width="3"/>
<line x1="515.8" y1="357.2" x2="528.0" y2="347.9" stroke="#2a80c2" stroke-width="1.4"/>
<line x1="528.0" y1="347.9" x2="538.9" y2="339.7" stroke="#df4448" stroke-width="3"/>
<line x1="528.0" y1="347.9" x2="538.9" y2="339.7" stroke="#f5a8a8" stroke-width="1.1" stroke-dasharray="1 0.7"/>
<line x1="515.8" y1="357.2" x2="525.1" y2="369.4" stroke="#13507f" stroke-width="3"/>
<line x1="515.8" y1="357.2" x2="525.1" y2="369.4" stroke="#2a80c2" stroke-width="1.4"/>
<line x1="525.1" y1="369.4" x2="533.3" y2="380.3" stroke="#df4448" stroke-width="3"/>
<line x1="525.1" y1="369.4" x2="533.3" y2="380.3" stroke="#f5a8a8" stroke-width="1.1" stroke-dasharray="1 0.7"/>
<line x1="515.8" y1="357.2" x2="503.6" y2="366.5" stroke="#13507f" stroke-width="3"/>
<line x1="515.8" y1="357.2" x2="503.6" y2="366.5" stroke="#2a80c2" stroke-width="1.4"/>
<line x1="503.6" y1="366.5" x2="492.7" y2="374.7" stroke="#df4448" stroke-width="3"/>
<line x1="503.6" y1="366.5" x2="492.7" y2="374.7" stroke="#f5a8a8" stroke-width="1.1" stroke-dasharray="1 0.7"/>
<line x1="476.5" y1="398.0" x2="464.3" y2="388.7" stroke="#13507f" stroke-width="3"/>
<line x1="476.5" y1="398.0" x2="464.3" y2="388.7" stroke="#2a80c2" stroke-width="1.4"/>
<line x1="464.3" y1="388.7" x2="453.4" y2="380.5" stroke="#df4448" stroke-width="3"/>
<line x1="464.3" y1="388.7" x2="453.4" y2="380.5" stroke="#f5a8a8" stroke-width="1.1" stroke-dasharray="1 0.7"/>
<line x1="476.5" y1="398.0" x2="485.8" y2="385.8" stroke="#13507f" stroke-width="3"/>
<line x1="476.5" y1="398.0" x2="485.8" y2="385.8" stroke="#2a80c2" stroke-width="1.4"/>
<line x1="485.8" y1="385.8" x2="494.0" y2="374.9" stroke="#df4448" stroke-width="3"/>
<line x1="485.8" y1="385.8" x2="494.0" y2="374.9" stroke="#f5a8a8" stroke-width="1.1" stroke-dasharray="1 0.7"/>
<line x1="476.5" y1="398.0" x2="488.7" y2="407.3" stroke="#13507f" stroke-width="3"/>
<line x1="476.5" y1="398.0" x2="488.7" y2="407.3" stroke="#2a80c2" stroke-width="1.4"/>
<line x1="488.7" y1="407.3" x2="499.6" y2="415.5" stroke="#df4448" stroke-width="3"/>
<line x1="488.7" y1="407.3" x2="499.6" y2="415.5" stroke="#f5a8a8" stroke-width="1.1" stroke-dasharray="1 0.7"/>
<line x1="476.5" y1="398.0" x2="467.2" y2="410.2" stroke="#13507f" stroke-width="3"/>
<line x1="476.5" y1="398.0" x2="467.2" y2="410.2" stroke="#2a80c2" stroke-width="1.4"/>
<line x1="467.2" y1="410.2" x2="459.0" y2="421.1" stroke="#df4448" stroke-width="3"/>
<line x1="467.2" y1="410.2" x2="459.0" y2="421.1" stroke="#f5a8a8" stroke-width="1.1" stroke-dasharray="1 0.7"/>
<circle cx="480.5" cy="315.9" r="3.9" fill="#d83a40"/>
<circle cx="476.0" cy="316.2" r="7.6" fill="url(#gv)"/>
<circle cx="470.0" cy="317.2" r="3.9" fill="url(#go)"/>
<text x="470.0" y="318.7" class="al">O1</text>
<circle cx="430.5" cy="355.8" r="3.9" fill="#d83a40"/>
<circle cx="435.0" cy="356.4" r="7.6" fill="url(#gv)"/>
<circle cx="441.0" cy="358.4" r="3.9" fill="url(#go)"/>
<text x="441.0" y="359.9" class="al">O1</text>
<circle cx="511.0" cy="356.9" r="3.9" fill="#d83a40"/>
<circle cx="515.8" cy="357.2" r="7.6" fill="url(#gv)"/>
<circle cx="522.2" cy="358.2" r="3.9" fill="url(#go)"/>
<text x="522.2" y="359.7" class="al">O1</text>
<circle cx="481.4" cy="397.7" r="3.9" fill="#d83a40"/>
<circle cx="476.5" cy="398.0" r="7.6" fill="url(#gv)"/>
<circle cx="469.9" cy="399.0" r="3.9" fill="url(#go)"/>
<text x="469.9" y="400.5" class="al">O1</text>
<circle cx="452.9" cy="298.7" r="4.3" fill="url(#go)"/>
<text x="452.9" y="300.2" class="al">O2</text>
<circle cx="493.5" cy="293.1" r="4.3" fill="url(#go)"/>
<text x="493.5" y="294.6" class="al">O2</text>
<circle cx="499.1" cy="333.7" r="4.3" fill="url(#go)"/>
<text x="499.1" y="335.2" class="al">O2</text>
<circle cx="458.5" cy="339.3" r="4.3" fill="url(#go)"/>
<text x="458.5" y="340.8" class="al">O2</text>
<circle cx="417.5" cy="333.3" r="4.3" fill="url(#go)"/>
<text x="417.5" y="334.8" class="al">O2</text>
<circle cx="452.5" cy="379.5" r="4.3" fill="url(#go)"/>
<text x="452.5" y="381.0" class="al">O2</text>
<circle cx="412.6" cy="375.0" r="4.3" fill="url(#go)"/>
<text x="412.6" y="376.5" class="al">O2</text>
<circle cx="538.9" cy="339.7" r="4.3" fill="url(#go)"/>
<text x="538.9" y="341.2" class="al">O2</text>
<circle cx="533.3" cy="380.3" r="4.3" fill="url(#go)"/>
<text x="533.3" y="381.8" class="al">O2</text>
<circle cx="492.7" cy="374.7" r="4.3" fill="url(#go)"/>
<text x="492.7" y="376.2" class="al">O2</text>
<circle cx="499.6" cy="415.5" r="4.3" fill="url(#go)"/>
<text x="499.6" y="417.0" class="al">O2</text>
<circle cx="459.0" cy="421.1" r="4.3" fill="url(#go)"/>
<text x="459.0" y="422.6" class="al">O2</text>
</g>
<rect x="43.5" y="157.35" width="350.2" height="244.95000000000002" fill="none" stroke="#505050" stroke-width="1"/>
<path d="M61.4 402.3v-7M61.4 157.35v7M106.3 402.3v-3.4M106.3 157.35v3.4M151.2 402.3v-7M151.2 157.35v7M196.1 402.3v-3.4M196.1 157.35v3.4M241.0 402.3v-7M241.0 157.35v7M285.9 402.3v-3.4M285.9 157.35v3.4M330.8 402.3v-7M330.8 157.35v7M375.7 402.3v-3.4M375.7 157.35v3.4M43.5 381.9h3.8M393.7 381.9h-3.8M43.5 361.5h7M393.7 361.5h-7M43.5 341.1h3.8M393.7 341.1h-3.8M43.5 320.6h7M393.7 320.6h-7M43.5 300.2h3.8M393.7 300.2h-3.8M43.5 279.8h7M393.7 279.8h-7M43.5 259.4h3.8M393.7 259.4h-3.8M43.5 239.0h7M393.7 239.0h-7M43.5 218.6h3.8M393.7 218.6h-3.8M43.5 198.2h7M393.7 198.2h-7M43.5 177.8h3.8M393.7 177.8h-3.8" stroke="#505050" stroke-width="0.9" fill="none"/>
<text x="61.4" y="413" class="tk" text-anchor="middle">0</text>
<text x="151.2" y="413" class="tk" text-anchor="middle">10</text>
<text x="241.0" y="413" class="tk" text-anchor="middle">20</text>
<text x="330.8" y="413" class="tk" text-anchor="middle">30</text>
<text x="35.2" y="405.7" class="tk" text-anchor="end">150</text>
<text x="35.2" y="364.9" class="tk" text-anchor="end">155</text>
<text x="35.2" y="324.0" class="tk" text-anchor="end">160</text>
<text x="35.2" y="283.2" class="tk" text-anchor="end">165</text>
<text x="35.2" y="242.4" class="tk" text-anchor="end">170</text>
<text x="35.2" y="201.6" class="tk" text-anchor="end">175</text>
<text x="35.2" y="160.8" class="tk" text-anchor="end">180</text>
<text x="217.7" y="429.3" class="lb" text-anchor="middle">PVO thickness (nm)</text>
<text transform="translate(13.2 279.5) rotate(-90)" class="lb" style="font-size:10px" text-anchor="middle">V-O-V angle (°)</text>
<path d="M65.5 207.4C74.0 207.4 82.5 206.9 91 208.2C93.5 208.6 96.1 209.9 98.6 211.4C101.6 213.2 104.6 214.1 107.6 218.2L132 266.3L148.6 278.6L173 327.4L214.4 345.6L322.4 352.3" fill="none" stroke="#1f1fcc" stroke-width="1.35" stroke-linejoin="round"/>
<path d="M65.5 195.4V219.6M61.0 195.4h9M61.0 219.6h9M91 191V225.6M86.5 191h9M86.5 225.6h9M98.6 194.4V228.6M94.1 194.4h9M94.1 228.6h9M107.6 203.4V233.4M103.1 203.4h9M103.1 233.4h9M132 246.6V285.6M127.5 246.6h9M127.5 285.6h9M148.6 258.6V298.6M144.1 258.6h9M144.1 298.6h9M173 310V344.6M168.5 310h9M168.5 344.6h9M214.4 333.4V358M209.9 333.4h9M209.9 358h9M322.4 335V369.4M317.9 335h9M317.9 369.4h9" fill="none" stroke="#1f1fcc" stroke-width="1.3"/>
<path d="M65.5 195.4L91 227.1L98.6 236.2L107.6 242.7L132 278.4L148.6 301.5L173 335L214.4 343.3L322.4 346.8" fill="none" stroke="#df1b22" stroke-width="1.35" stroke-linejoin="round"/>
<path d="M65.5 183V207.4M61.0 183h9M61.0 207.4h9M91 215V239.4M86.5 215h9M86.5 239.4h9M98.6 224V248.6M94.1 224h9M94.1 248.6h9M107.6 230V255M103.1 230h9M103.1 255h9M132 264V293M127.5 264h9M127.5 293h9M148.6 284.5V318.6M144.1 284.5h9M144.1 318.6h9M173 320V350M168.5 320h9M168.5 350h9M214.4 331V356M209.9 331h9M209.9 356h9M322.4 327V366M317.9 327h9M317.9 366h9" fill="none" stroke="#df1b22" stroke-width="1.3"/>
<rect x="288.4" y="174.6" width="70.2" height="24.8" fill="#fff" stroke="#505050" stroke-width="0.8"/>
<line x1="291.6" y1="181.6" x2="307" y2="181.6" stroke="#2323cc" stroke-width="1.3"/>
<line x1="291.6" y1="192" x2="307" y2="192" stroke="#e01f26" stroke-width="1.3"/>
<text x="313.6" y="185" class="tk">V1-O1-V1</text>
<text x="313.6" y="195.4" class="tk">V1-O2-V1</text>
<rect x="39.9" y="153.8" width="7.2" height="7.7" fill="#b5072f"/>
<polygon points="394.2,375.8 398.8,380.4 394.2,385 389.6,380.4" fill="#a50e34"/>
<polygon points="394.2,369.9 398.8,374.5 394.2,379.1 389.6,374.5" fill="#1426c4"/>
<line x1="113" y1="211.6" x2="139.8" y2="158" stroke="#000" stroke-width="1.55" stroke-dasharray="2.9 1.6"/>
<polygon points="142.4,151.6 136.6,156.8 143.4,159.6" fill="#000"/>
<line x1="161" y1="270" x2="269.5" y2="155.3" stroke="#000" stroke-width="1.55" stroke-dasharray="2.9 1.6"/>
<polygon points="274.8,149.9 267.5,152.5 273.2,157.5" fill="#000"/>
<line x1="188.4" y1="318.4" x2="382.2" y2="224.4" stroke="#000" stroke-width="1.55" stroke-dasharray="2.9 1.6"/>
<polygon points="380.8,221.3 388.7,221.3 384.2,227.5" fill="#000"/>
<line x1="341" y1="347.8" x2="378" y2="347.8" stroke="#000" stroke-width="1.55" stroke-dasharray="2.9 1.6"/>
<polygon points="377.4,344 384.2,347.8 377.4,351.6" fill="#000"/>
<rect x="447.5" y="33.4" width="60.5" height="60.7" fill="none" stroke="#5c5c5c" stroke-width="0.8"/>
<path d="M477.7 33.4L464.5 50.5L447.6 64L460.6 80.8L477.7 94.3L491 77.4L508 64L494.6 46.6Z" fill="none" stroke="#555" stroke-width="0.8"/>
<circle cx="477.7" cy="33.4" r="5" fill="#1e6aa4" stroke="#0f456e" stroke-width="0.6"/>
<circle cx="447.6" cy="64" r="5" fill="#1e6aa4" stroke="#0f456e" stroke-width="0.6"/>
<circle cx="508" cy="64" r="5" fill="#1e6aa4" stroke="#0f456e" stroke-width="0.6"/>
<circle cx="477.7" cy="94.3" r="5" fill="#1e6aa4" stroke="#0f456e" stroke-width="0.6"/>
<circle cx="464.5" cy="50.5" r="2.3" fill="#f01818" stroke="#a00" stroke-width="0.4"/>
<circle cx="494.6" cy="46.6" r="2.3" fill="#f01818" stroke="#a00" stroke-width="0.4"/>
<circle cx="460.6" cy="80.8" r="2.3" fill="#f01818" stroke="#a00" stroke-width="0.4"/>
<circle cx="491" cy="77.4" r="2.3" fill="#f01818" stroke="#a00" stroke-width="0.4"/>
<circle cx="477.2" cy="64.4" r="8.9" fill="#f7f214" stroke="#7d7a10" stroke-width="0.7"/>
<text x="477.4" y="67.9" class="sb" text-anchor="middle" style="font-size:9px">Pr1</text>
<text x="477.6" y="26" class="sb" text-anchor="middle">V1</text>
<text x="457.5" y="45.7" class="sb" text-anchor="middle">O2</text>
<text x="435.2" y="67" class="sb" text-anchor="middle">V1</text>
<rect x="423.4" y="92" width="3.1" height="27" fill="url(#gg)"/>
<polygon points="424.9,79.8 429.8,92.6 420,92.6" fill="#27d626"/>
<rect x="425" y="117.85" width="27.5" height="3.1" fill="url(#gr)"/>
<polygon points="464.6,119.4 452.2,114.6 452.2,124.2" fill="#e01414"/>
<circle cx="425" cy="119.4" r="4.6" fill="url(#gc)"/>
<text x="425" y="121.3" text-anchor="middle" style="font:5.5px 'Liberation Sans',sans-serif;fill:#111">c</text>
<text x="413.8" y="88.1" text-anchor="middle" class="ab">b</text>
<text x="473.7" y="125.2" text-anchor="middle" class="ab">a</text>
</svg>
</body></html>
